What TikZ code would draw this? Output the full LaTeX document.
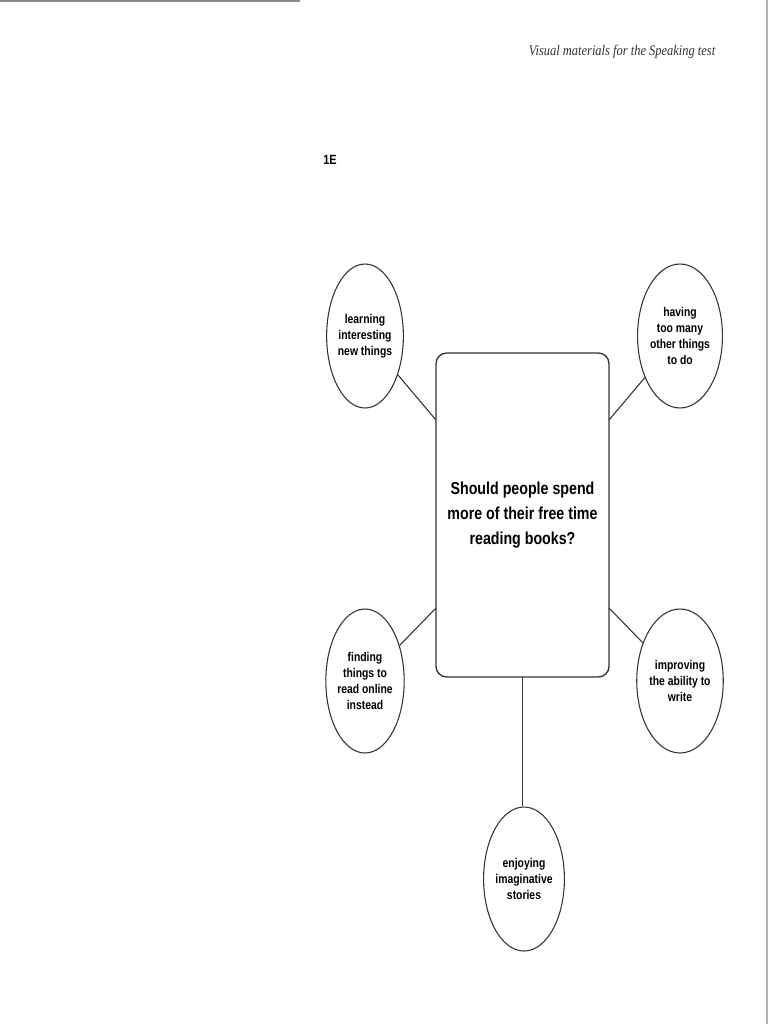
\documentclass[tikz,border=0pt]{standalone}
\usepackage{fontspec}
\usetikzlibrary{shapes.geometric}
\setmainfont{Liberation Sans}[FakeStretch=0.82]
\newfontfamily\serifit{Liberation Serif}[FakeStretch=0.85]
\begin{document}
\begin{tikzpicture}[x=0.75pt,y=-0.75pt,
  bub/.style={draw=black!80,line width=0.8pt,ellipse,minimum width=72*0.75pt,minimum height=144*0.75pt,inner sep=0pt,align=center,font=\bfseries\fontsize{9.5}{12}\selectfont},
  link/.style={draw=black!80,line width=0.8pt}]
\useasboundingbox (0,0) rectangle (768,1024);
\fill[white] (0,0) rectangle (768,1024);
\draw[black!45,line width=1pt] (0,1) -- (300,1);
\draw[black!30,line width=1pt] (767,0) -- (767,1024);
\node[anchor=east,font=\serifit\itshape\fontsize{11}{13}\selectfont,text=black!80] (hdr) at (720,52) {Visual materials for the Speaking test};
\node[font=\bfseries\fontsize{10}{12}\selectfont] (lbl) at (330,160) {1E};
\node[draw=black!80,line width=1pt,rounded corners=8pt,minimum width=173*0.75pt,minimum height=324*0.75pt,align=center,font=\bfseries\fontsize{13}{19}\selectfont] (q) at (522.5,515) {Should people spend\\more of their free time\\reading books?};
\node[bub] (tl) at (365,336) {learning\\interesting\\new things};
\node[bub,minimum width=68*0.75pt] (tr) at (680,336) {having\\too many\\other things\\to do};
\node[bub] (ml) at (365,681) {finding\\things to\\read online\\instead};
\node[bub] (mr) at (680,681) {improving\\the ability to\\write};
\node[bub] (bt) at (524,879) {enjoying\\imaginative\\stories};
\coordinate (q1) at (436,420); \coordinate (q2) at (609,420);
\coordinate (q3) at (436,608); \coordinate (q4) at (609,608);
\coordinate (q5) at (522.4,677);
\draw[link] (tl) -- (q1);
\draw[link] (tr) -- (q2);
\draw[link] (ml) -- (q3);
\draw[link] (mr) -- (q4);
\draw[link] (q5) -- (bt.north -| q5);
\end{tikzpicture}
\end{document}
